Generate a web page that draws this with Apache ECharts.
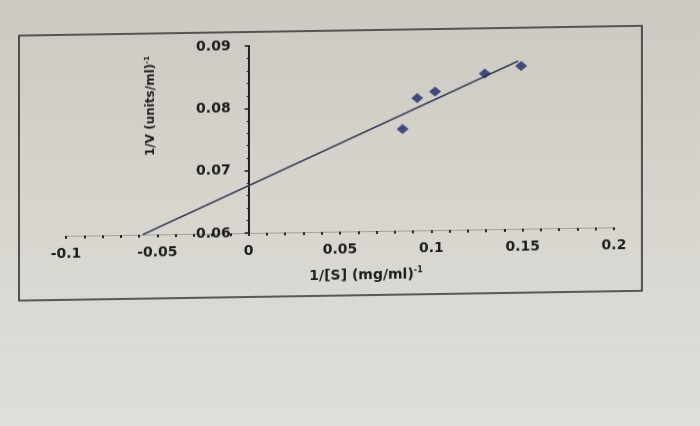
<!DOCTYPE html>
<html><head><meta charset="utf-8">
<script src="https://cdn.jsdelivr.net/npm/echarts@6/dist/echarts.min.js"></script>
<style>
html,body{margin:0;padding:0;overflow:hidden;background:linear-gradient(#cbc9c1,#d7d5ce 50%,#dfded9);height:426px;}
#c{width:700px;height:426px;transform:skewY(-0.9deg);transform-origin:248px 233px;}
</style>
</head><body><div id="c"></div>
<script>
const xTicks = [-0.1, -0.05, 0, 0.05, 0.1, 0.15, 0.2];
const yTicks = [0.06, 0.07, 0.08, 0.09];
const pointsX = [0.0843, 0.0923, 0.1021, 0.1293, 0.1492];
const pointsY = [0.0763, 0.0812, 0.0822, 0.0850, 0.0861];
const lineX = [-0.058, 0.1476];
const lineY = [0.06, 0.0869];
const xTitle = '1/[S] (mg/ml)';
const yTitle = '1/V (units/ml)';

const chart = echarts.init(document.getElementById('c'));
const txt = '#1c1c1c';
const font = 'DejaVu Sans';
const gridLeft = 66, gridRight = 86;
const plotW = 700 - gridLeft - gridRight;
const zeroOffset = plotW * (0 - (-0.1)) / (0.2 - (-0.1));
chart.setOption({
  backgroundColor: 'transparent',
  animation: false,
  graphic: [{
    type: 'rect', shape: {x: 19, y: 32, width: 623, height: 265},
    style: {fill: 'none', stroke: '#2e2e2e', lineWidth: 1.6}, z: -10
  }],
  grid: {left: gridLeft, right: gridRight, top: 46, bottom: 193, outerBoundsMode: 'none'},
  xAxis: {
    type: 'value', min: -0.1, max: 0.2, interval: 0.05,
    name: xTitle + '{sup|-1}', nameLocation: 'middle', nameGap: 36,
    nameTextStyle: {color: txt, fontFamily: font, fontWeight: 'bold', fontSize: 14, padding: [0, 0, 0, 52],
      rich: {sup: {fontSize: 8, verticalAlign: 'top', padding: [0,0,8,0], color: txt, fontWeight: 'bold', fontFamily: font}}},
    axisLine: {onZero: false, lineStyle: {color: '#a3a19a', width: 1}},
    axisTick: {show: true, length: 3, lineStyle: {color: '#2a2a2a', width: 2}},
    minorTick: {show: true, splitNumber: 5, length: 3, lineStyle: {color: '#2a2a2a', width: 2}},
    axisLabel: {color: txt, fontFamily: font, fontWeight: 'bold', fontSize: 14, margin: 11,
      formatter: v => xTicks.includes(+v.toFixed(2)) ? String(+v.toFixed(2)) : ''},
    splitLine: {show: false}
  },
  yAxis: {
    type: 'value', min: 0.06, max: 0.09, interval: 0.01,
    position: 'left', offset: -zeroOffset,
    name: yTitle + '{sup|-1}', nameLocation: 'middle', nameGap: 91,
    nameTextStyle: {color: txt, fontFamily: font, fontWeight: 'bold', fontSize: 12, padding: [0, 0, 0, 70],
      rich: {sup: {fontSize: 7, verticalAlign: 'top', padding: [0,0,7,0], color: txt, fontWeight: 'bold', fontFamily: font}}},
    axisLine: {onZero: false, lineStyle: {color: '#1e1e1e', width: 2}},
    axisTick: {show: true, length: 4, lineStyle: {color: '#1e1e1e', width: 1.5}},
    minorTick: {show: true, splitNumber: 5, length: 2, lineStyle: {color: '#333', width: 1.2}},
    axisLabel: {color: txt, fontFamily: font, fontWeight: 'bold', fontSize: 14, margin: 18,
      formatter: v => yTicks.includes(+v.toFixed(2)) ? v.toFixed(2) : ''},
    splitLine: {show: false}
  },
  series: [{
    type: 'line', data: lineX.map((x, i) => [x, lineY[i]]), symbol: 'none',
    lineStyle: {color: '#3b3f55', width: 1.6}, z: 2
  }, {
    type: 'scatter', data: pointsX.map((x, i) => [x, pointsY[i]]), symbol: 'diamond', symbolSize: [12, 10],
    itemStyle: {color: '#1a2a66'}, z: 3
  }]
});
</script></body></html>
